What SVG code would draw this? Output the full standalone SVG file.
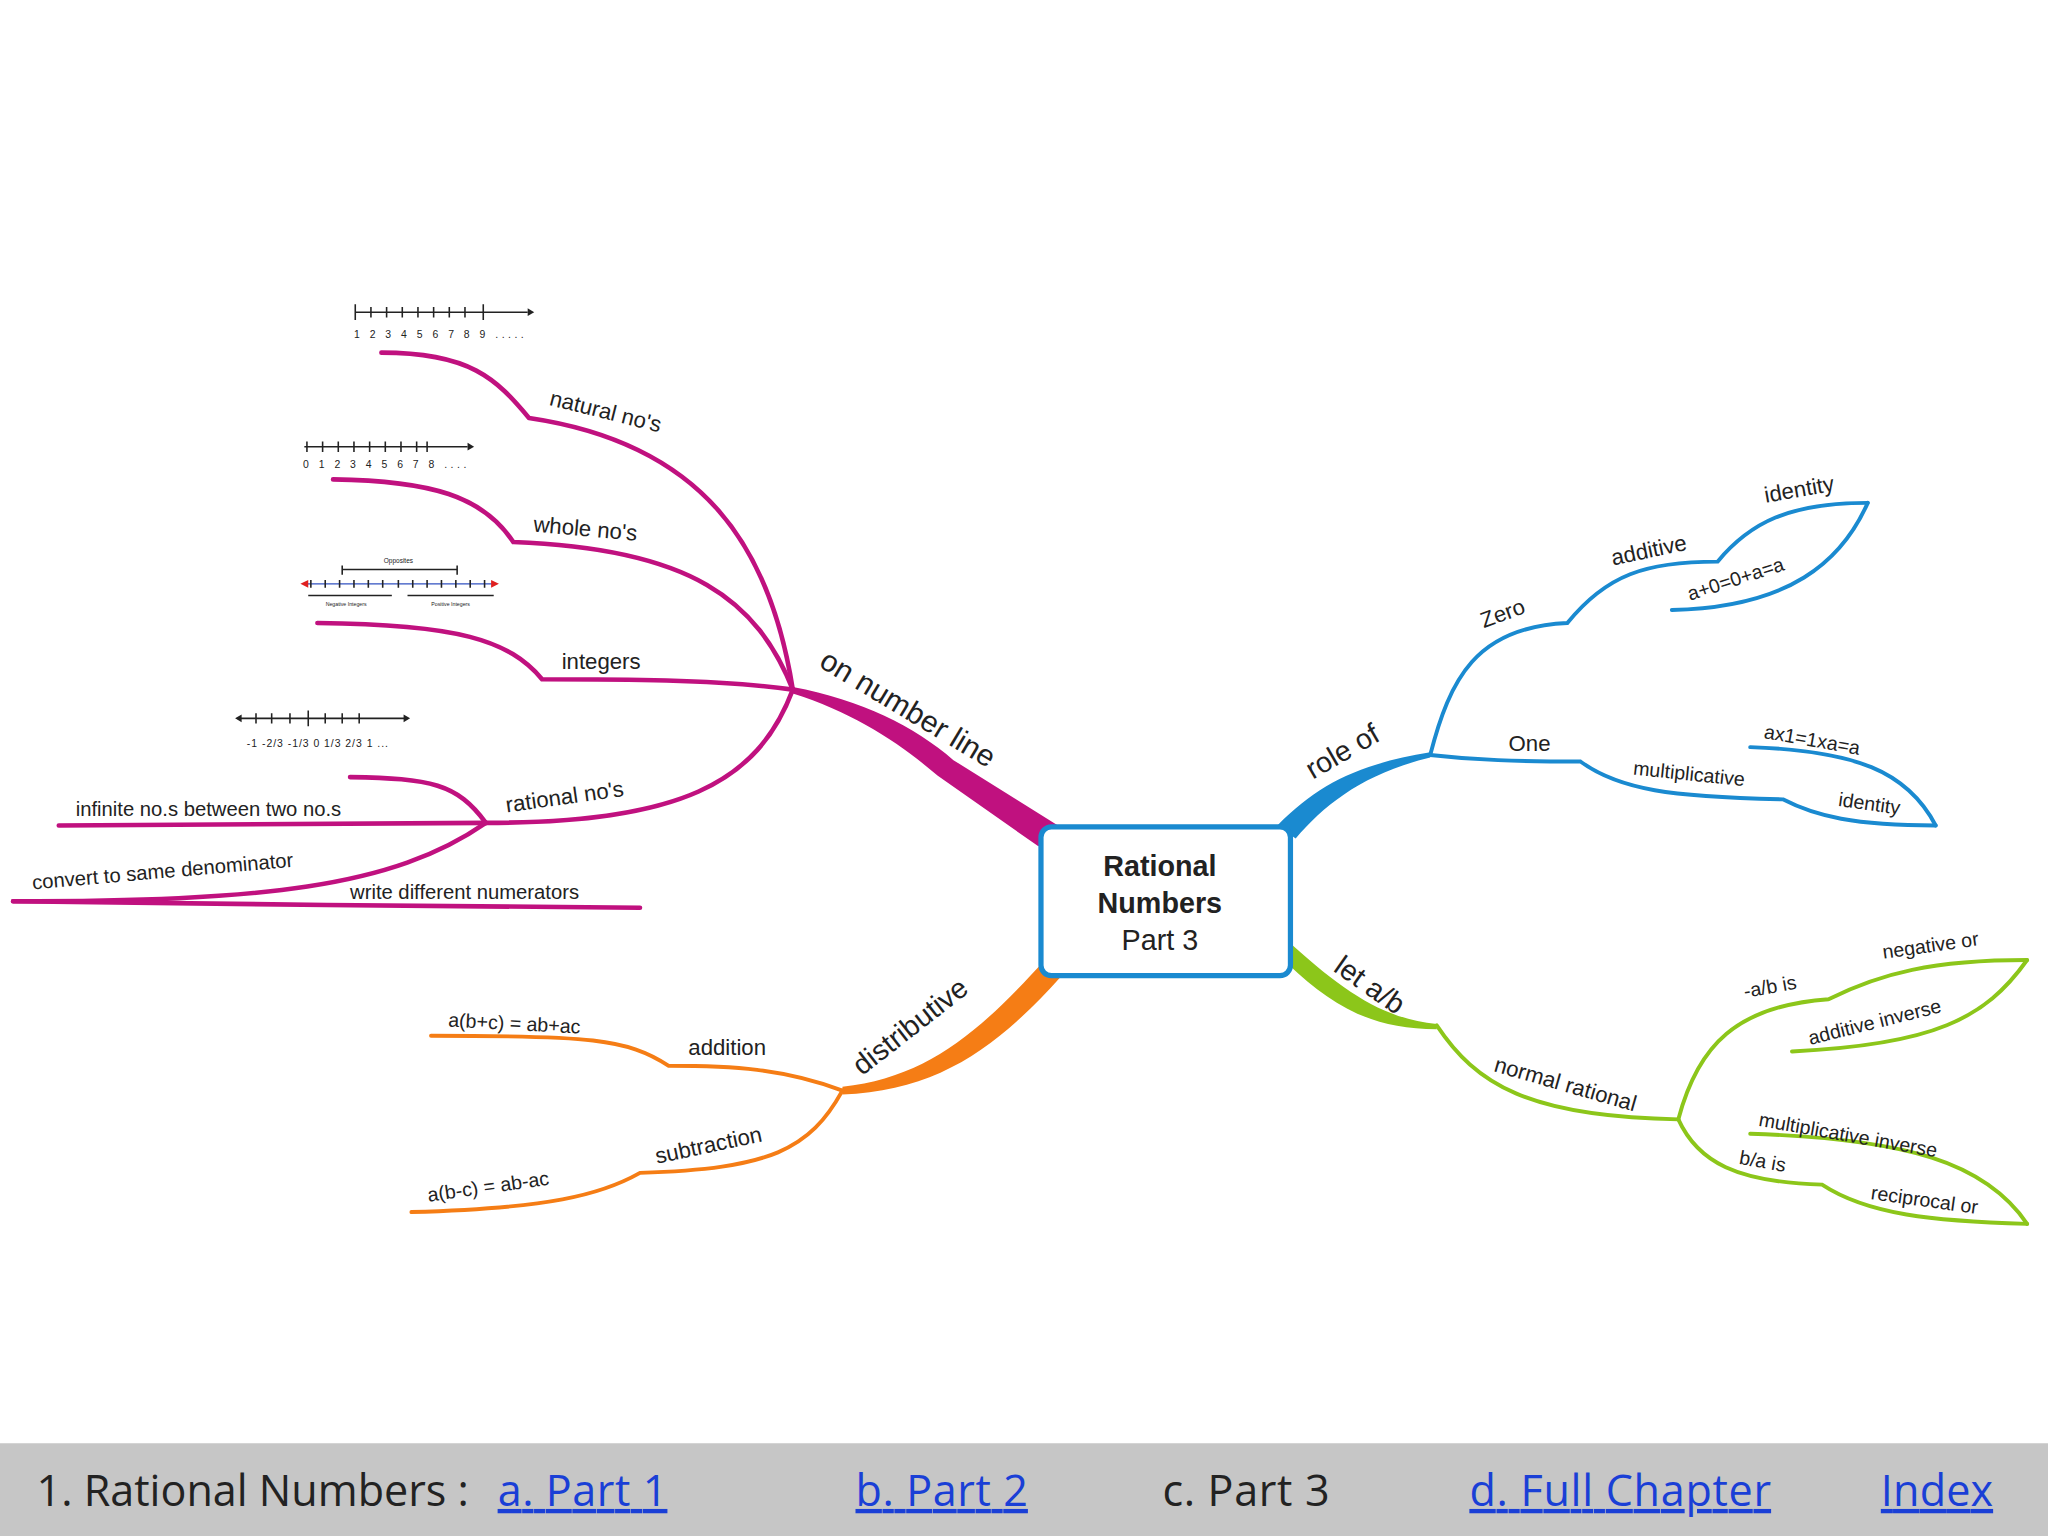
<svg xmlns="http://www.w3.org/2000/svg" width="2048" height="1536" viewBox="0 0 2048 1536">
<style>
text{font-family:"Liberation Sans",Arial,sans-serif;fill:#222}
.l{font-size:17px}
.m{stroke:#c0117f;fill:none;stroke-width:3.5;stroke-linecap:round}
.b{stroke:#1a8ad0;fill:none;stroke-width:3;stroke-linecap:round}
.g{stroke:#8cc61a;fill:none;stroke-width:3;stroke-linecap:round}
.o{stroke:#f57d15;fill:none;stroke-width:3;stroke-linecap:round}
.nl{stroke:#222;stroke-width:1.2;fill:none}
.tiny{font-size:8px}
.foot{font-family:"Open Sans","Liberation Sans",sans-serif;font-size:33px}
.lnk{fill:#1a3fd6;text-decoration:underline}
</style>
<rect width="2048" height="1536" fill="#fff"/>
<g transform="scale(1.30612)">
<g id="connectors">
<path d="M607 526 C660 536 700 556 730 582 L810 632 L795 648 L718 594 C690 570 655 546 607 531 Z" fill="#c0117f"/>
<path class="m" d="M607 528 C590 420 540 340 405 320 C380 290 360 270 292 270"/>
<path class="m" d="M607 528 C580 460 530 420 393 415 C370 380 330 368 255 367"/>
<path class="m" d="M607 528 C550 520 470 520 415 520 C390 490 350 478 243 477"/>
<path class="m" d="M607 528 C580 600 520 630 372 630"/>
<path class="m" stroke-width="2.5" d="M372 630 C350 600 330 596 268 595"/>
<path class="m" d="M372 630 L45 632"/>
<path class="m" stroke-width="4" d="M372 630 C300 680 200 690 10 690"/>
<path class="m" stroke-width="2.5" d="M10 690 C150 692 350 694 490 695"/>
<path d="M978 632 C1010 600 1040 585 1095 576 L1095 580 C1045 592 1015 615 992 642 Z" fill="#1a8ad0"/>
<path class="b" d="M1095 578 C1110 520 1130 480 1200 477 C1230 440 1260 430 1315 430 C1340 400 1370 385 1430 385"/>
<path class="b" d="M1430 385 C1410 430 1370 465 1280 467"/>
<path class="b" d="M1095 578 C1130 582 1160 583 1210 583 C1240 605 1280 610 1365 612 C1390 625 1420 632 1482 632"/>
<path class="b" d="M1482 632 C1460 590 1420 575 1340 572"/>
<path d="M990 724 C1030 760 1060 780 1100 784 L1100 788 C1050 788 1020 770 986 738 Z" fill="#8cc61a"/>
<path class="g" d="M1100 785 C1130 830 1170 855 1285 857"/>
<path class="g" d="M1285 857 C1300 800 1330 770 1400 765 C1440 745 1480 735 1552 735"/>
<path class="g" d="M1552 735 C1520 780 1480 800 1372 805"/>
<path class="g" d="M1285 857 C1300 890 1330 905 1395 907 C1430 930 1480 935 1552 937"/>
<path class="g" d="M1552 937 C1520 890 1460 872 1340 868"/>
<path d="M800 735 C750 790 710 825 645 832 L645 838 C720 835 765 800 812 748 Z" fill="#f57d15"/>
<path class="o" d="M645 835 C600 818 560 816 512 816 C480 795 450 793 330 793"/>
<path class="o" d="M645 835 C620 880 590 895 490 898 C460 915 420 925 315 928"/>
</g>
<g id="center">
<rect x="797" y="633" width="191" height="114" rx="8" fill="#fff" stroke="#1a8ad0" stroke-width="4"/>
<text x="888" y="671" text-anchor="middle" font-size="22" font-weight="bold">Rational</text>
<text x="888" y="699" text-anchor="middle" font-size="22" font-weight="bold">Numbers</text>
<text x="888" y="727" text-anchor="middle" font-size="22">Part 3</text>
</g>
<g id="on-number-line">
<text x="626" y="510" font-size="23" transform="rotate(31 626 510)">on number line</text>
<text x="420" y="310" class="l" transform="rotate(14 420 310)">natural no's</text>
<text x="408" y="407" class="l" transform="rotate(5 408 407)">whole no's</text>
<text x="430" y="512" class="l">integers</text>
<text x="388" y="622" class="l" transform="rotate(-8 388 622)">rational no's</text>
<text x="58" y="625" font-size="15.5">infinite no.s between two no.s</text>
<text x="25" y="681" font-size="15.5" transform="rotate(-5 25 681)">convert to same denominator</text>
<text x="268" y="688" font-size="15.5">write different numerators</text>
</g>
<g id="number-lines">
<path class="nl" d="M272 239 H404 M272 233 V245 M284 235 V243 M296 235 V243 M308 235 V243 M320 235 V243 M332 235 V243 M344 235 V243 M356 235 V243 M370 233 V245"/>
<path d="M404 236 L409 239 L404 242 Z" fill="#222"/>
<text x="271" y="259" class="tiny" textLength="130">1 2 3 4 5 6 7 8 9 .....</text>
<path class="nl" d="M233 342 H358 M235 338 V346 M247 338 V346 M259 338 V346 M271 338 V346 M283 338 V346 M295 338 V346 M307 338 V346 M319 338 V346 M327 338 V346"/>
<path d="M358 339 L363 342 L358 345 Z" fill="#222"/>
<text x="232" y="358" class="tiny" textLength="125">0 1 2 3 4 5 6 7 8 ....</text>
<text x="305" y="431" font-size="5" text-anchor="middle">Opposites</text>
<path class="nl" stroke-width="0.8" d="M262 436 H350 M262 433 V440 M350 433 V440"/>
<path d="M232 447 H380" stroke="#3050c0" stroke-width="1"/>
<path d="M230 447 L236 444 L236 450 Z M382 447 L376 444 L376 450 Z" fill="#e02020"/>
<path class="nl" stroke-width="0.8" d="M238 444 V450 M249 444 V450 M260 444 V450 M271 444 V450 M282 444 V450 M293 444 V450 M305 444 V450 M316 444 V450 M327 444 V450 M338 444 V450 M349 444 V450 M360 444 V450 M371 444 V450"/>
<path class="nl" stroke-width="0.6" d="M236 456 H300 M312 456 H378"/>
<text x="265" y="464" font-size="4" text-anchor="middle">Negative Integers</text>
<text x="345" y="464" font-size="4" text-anchor="middle">Positive Integers</text>
<path class="nl" d="M182 550 H312 M196 546 V554 M208 546 V554 M222 546 V554 M236 544 V556 M249 546 V554 M262 546 V554 M275 546 V554"/>
<path d="M180 550 L185 547 L185 553 Z M314 550 L309 547 L309 553 Z" fill="#222"/>
<text x="189" y="572" class="tiny" textLength="108">-1 -2/3 -1/3 0 1/3 2/3 1 ...</text>
</g>
<g id="role-of">
<text x="1005" y="597" font-size="22" transform="rotate(-30 1005 597)">role of</text>
<text x="1136" y="481" class="l" transform="rotate(-20 1136 481)">Zero</text>
<text x="1235" y="433" class="l" transform="rotate(-12 1235 433)">additive</text>
<text x="1352" y="385" class="l" transform="rotate(-10 1352 385)">identity</text>
<text x="1294" y="460" font-size="15" transform="rotate(-18 1294 460)">a+0=0+a=a</text>
<text x="1155" y="575" class="l">One</text>
<text x="1250" y="593" font-size="15" transform="rotate(6 1250 593)">multiplicative</text>
<text x="1350" y="565" font-size="15" transform="rotate(10 1350 565)">ax1=1xa=a</text>
<text x="1407" y="617" font-size="15" transform="rotate(8 1407 617)">identity</text>
</g>
<g id="let-ab">
<text x="1020" y="743" font-size="22" transform="rotate(35 1020 743)">let a/b</text>
<text x="1143" y="820" class="l" transform="rotate(16 1143 820)">normal rational</text>
<text x="1336" y="764" font-size="15" transform="rotate(-10 1336 764)">-a/b is</text>
<text x="1442" y="734" font-size="15" transform="rotate(-8 1442 734)">negative or</text>
<text x="1386" y="800" font-size="15" transform="rotate(-14 1386 800)">additive inverse</text>
<text x="1346" y="862" font-size="15" transform="rotate(10 1346 862)">multiplicative inverse</text>
<text x="1331" y="891" font-size="15" transform="rotate(10 1331 891)">b/a is</text>
<text x="1432" y="918" font-size="15" transform="rotate(8 1432 918)">reciprocal or</text>
</g>
<g id="distributive">
<text x="660" y="824" font-size="22" transform="rotate(-38 660 824)">distributive</text>
<text x="527" y="808" class="l">addition</text>
<text x="343" y="786" font-size="15" transform="rotate(3 343 786)">a(b+c) = ab+ac</text>
<text x="503" y="891" class="l" transform="rotate(-12 503 891)">subtraction</text>
<text x="328" y="920" font-size="15" transform="rotate(-8 328 920)">a(b-c) = ab-ac</text>
</g>
<g id="footer">
<rect x="0" y="1105" width="1568" height="71" fill="#c6c6c6"/>
<text x="28" y="1153" class="foot">1. Rational Numbers : </text>
<text x="381" y="1153" class="foot lnk" textLength="130">a. Part 1</text>
<text x="655" y="1153" class="foot lnk" textLength="132">b. Part 2</text>
<text x="890" y="1153" class="foot" textLength="128">c. Part 3</text>
<text x="1125" y="1153" class="foot lnk" textLength="231">d. Full Chapter</text>
<text x="1440" y="1153" class="foot lnk" textLength="86">Index</text>
</g>
</g>
</svg>
